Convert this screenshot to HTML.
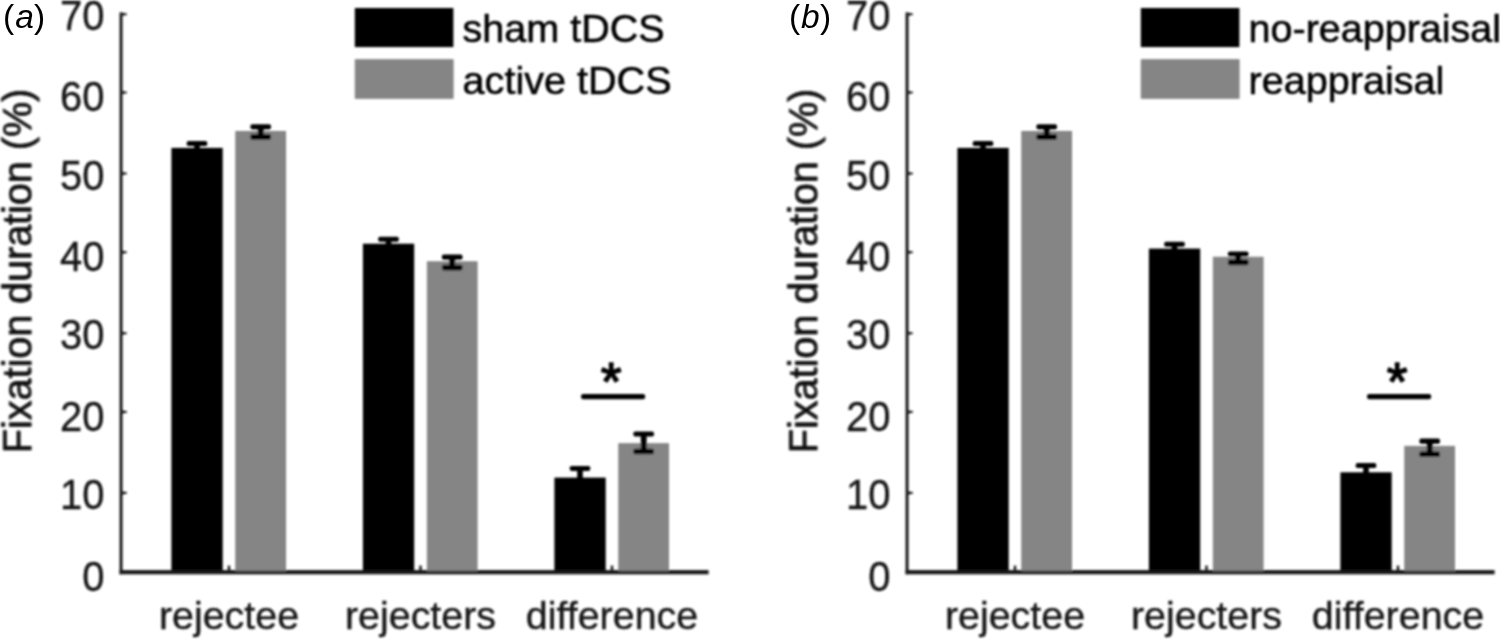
<!DOCTYPE html>
<html lang="en">
<head>
<meta charset="utf-8">
<title>Fixation duration</title>
<style>
html,body{margin:0;padding:0;background:#fff;}
body{width:1500px;height:639px;overflow:hidden;}
svg{display:block;font-family:"Liberation Sans",Arial,sans-serif;}
</style>
</head>
<body>
<svg width="1500" height="639" viewBox="0 0 1500 639">
<rect width="1500" height="639" fill="#fff"/>
<g filter="url(#soft)">
<g transform="translate(0,0)">
<rect x="171.4" y="147.9" width="51.3" height="425.6" fill="#000"/>
<rect x="235.85" y="131.45" width="49.7" height="440.85" fill="#858585" stroke="#787878" stroke-width="0.9"/>
<rect x="362.9" y="243.7" width="51.3" height="329.8" fill="#000"/>
<rect x="427.35" y="261.85" width="49.7" height="310.45" fill="#858585" stroke="#787878" stroke-width="0.9"/>
<rect x="554.4" y="477.6" width="51.3" height="95.9" fill="#000"/>
<rect x="618.85" y="443.75" width="49.7" height="128.55" fill="#858585" stroke="#787878" stroke-width="0.9"/>
<rect x="119.6" y="12.4" width="2.9" height="561.8" fill="#151515"/>
<rect x="119.6" y="570.1" width="589" height="4.2" fill="#161616"/>
<rect x="235.4" y="569.5" width="50.6" height="2" fill="#858585" opacity="0.75"/>
<rect x="426.9" y="569.5" width="50.6" height="2" fill="#858585" opacity="0.75"/>
<rect x="618.4" y="569.5" width="50.6" height="2" fill="#858585" opacity="0.75"/>
<path d="M122 12.7 L126.8 13.4 L126.8 15.0 L122 15.7 Z" fill="#151515"/>
<path d="M122 91.0 L126.8 91.7 L126.8 93.3 L122 94.0 Z" fill="#151515"/>
<path d="M122 172.0 L126.8 172.7 L126.8 174.3 L122 175.0 Z" fill="#151515"/>
<path d="M122 250.8 L126.8 251.5 L126.8 253.1 L122 253.8 Z" fill="#151515"/>
<path d="M122 331.7 L126.8 332.4 L126.8 334.0 L122 334.7 Z" fill="#151515"/>
<path d="M122 410.4 L126.8 411.1 L126.8 412.7 L122 413.4 Z" fill="#151515"/>
<path d="M122 491.4 L126.8 492.1 L126.8 493.7 L122 494.4 Z" fill="#151515"/>
<rect x="227.8" y="565.6" width="2.4" height="5" fill="#151515"/>
<rect x="419.3" y="565.6" width="2.4" height="5" fill="#151515"/>
<rect x="610.8" y="565.6" width="2.4" height="5" fill="#151515"/>
<rect x="194.2" y="143.6" width="5.6" height="6.3" fill="#000"/>
<rect x="186.7" y="141.1" width="20.6" height="5" rx="1.8" fill="#000"/>
<rect x="257.8" y="126.8" width="5.8" height="10.1" fill="#000"/>
<rect x="250.4" y="124.2" width="20.6" height="5.2" rx="1.8" fill="#000"/>
<rect x="250.4" y="134.1" width="20.6" height="5.6" rx="1.8" fill="#000"/>
<rect x="385.7" y="239.2" width="5.6" height="6.5" fill="#000"/>
<rect x="378.2" y="236.7" width="20.6" height="5" rx="1.8" fill="#000"/>
<rect x="449.3" y="257.1" width="5.8" height="10.5" fill="#000"/>
<rect x="441.9" y="254.5" width="20.6" height="5.2" rx="1.8" fill="#000"/>
<rect x="441.9" y="264.8" width="20.6" height="5.6" rx="1.8" fill="#000"/>
<rect x="577.2" y="468.4" width="5.6" height="11.2" fill="#000"/>
<rect x="569.7" y="465.9" width="20.6" height="5" rx="1.8" fill="#000"/>
<rect x="640.8" y="434.0" width="5.8" height="17.5" fill="#000"/>
<rect x="633.4" y="431.4" width="20.6" height="5.2" rx="1.8" fill="#000"/>
<rect x="633.4" y="448.7" width="20.6" height="5.6" rx="1.8" fill="#000"/>
<rect x="581.0" y="394.1" width="64.2" height="5.2" rx="2.2" fill="#000"/>
<text x="611.2" y="399.8" font-size="53.5" text-anchor="middle" fill="#000" stroke="#000" stroke-width="1.5" stroke-linejoin="round">*</text>
<text transform="translate(104.4,590.5) scale(1,1.06)" font-size="40" text-anchor="end" fill="#141414" stroke="#141414" stroke-width="0.3">0</text>
<text transform="translate(104.4,509.0) scale(1,1.06)" font-size="40" text-anchor="end" fill="#141414" stroke="#141414" stroke-width="0.3">10</text>
<text transform="translate(104.4,430.6) scale(1,1.06)" font-size="40" text-anchor="end" fill="#141414" stroke="#141414" stroke-width="0.3">20</text>
<text transform="translate(104.4,349.4) scale(1,1.06)" font-size="40" text-anchor="end" fill="#141414" stroke="#141414" stroke-width="0.3">30</text>
<text transform="translate(104.4,271.0) scale(1,1.06)" font-size="40" text-anchor="end" fill="#141414" stroke="#141414" stroke-width="0.3">40</text>
<text transform="translate(104.4,190.2) scale(1,1.06)" font-size="40" text-anchor="end" fill="#141414" stroke="#141414" stroke-width="0.3">50</text>
<text transform="translate(104.4,111.0) scale(1,1.06)" font-size="40" text-anchor="end" fill="#141414" stroke="#141414" stroke-width="0.3">60</text>
<text transform="translate(104.4,30.0) scale(1,1.06)" font-size="40" text-anchor="end" fill="#141414" stroke="#141414" stroke-width="0.3">70</text>
<text x="229.0" y="629" font-size="39.4" text-anchor="middle" fill="#161616" stroke="#161616" stroke-width="0.4">rejectee</text>
<text x="420.5" y="629" font-size="39.4" text-anchor="middle" fill="#161616" stroke="#161616" stroke-width="0.4">rejecters</text>
<text x="612.0" y="629" font-size="39.4" text-anchor="middle" fill="#161616" stroke="#161616" stroke-width="0.4">difference</text>
<text transform="translate(31.7,270.9) rotate(-90) scale(1,1.04)" font-size="39.5" text-anchor="middle" fill="#0a0a0a" stroke="#0a0a0a" stroke-width="0.7">Fixation duration (%)</text>
<rect x="354.8" y="8" width="98.6" height="39.1" fill="#000"/>
<rect x="355.2" y="59.7" width="97.9" height="38.6" fill="#858585" stroke="#777" stroke-width="0.8"/>
<text x="462.6" y="42.2" font-size="39.5" fill="#000" stroke="#000" stroke-width="0.6">sham tDCS</text>
<text x="462.6" y="93.6" font-size="39.6" fill="#000" stroke="#000" stroke-width="0.6">active tDCS</text>
</g>
<g transform="translate(786.0,0)">
<rect x="171.4" y="147.9" width="51.3" height="425.6" fill="#000"/>
<rect x="235.85" y="131.45" width="49.7" height="440.85" fill="#858585" stroke="#787878" stroke-width="0.9"/>
<rect x="362.9" y="248.6" width="51.3" height="324.9" fill="#000"/>
<rect x="427.35" y="257.25" width="49.7" height="315.05" fill="#858585" stroke="#787878" stroke-width="0.9"/>
<rect x="554.4" y="472.3" width="51.3" height="101.2" fill="#000"/>
<rect x="618.85" y="446.35" width="49.7" height="125.95" fill="#858585" stroke="#787878" stroke-width="0.9"/>
<rect x="119.6" y="12.4" width="2.9" height="561.8" fill="#151515"/>
<rect x="119.6" y="570.1" width="589" height="4.2" fill="#161616"/>
<rect x="235.4" y="569.5" width="50.6" height="2" fill="#858585" opacity="0.75"/>
<rect x="426.9" y="569.5" width="50.6" height="2" fill="#858585" opacity="0.75"/>
<rect x="618.4" y="569.5" width="50.6" height="2" fill="#858585" opacity="0.75"/>
<path d="M122 12.7 L126.8 13.4 L126.8 15.0 L122 15.7 Z" fill="#151515"/>
<path d="M122 91.0 L126.8 91.7 L126.8 93.3 L122 94.0 Z" fill="#151515"/>
<path d="M122 172.0 L126.8 172.7 L126.8 174.3 L122 175.0 Z" fill="#151515"/>
<path d="M122 250.8 L126.8 251.5 L126.8 253.1 L122 253.8 Z" fill="#151515"/>
<path d="M122 331.7 L126.8 332.4 L126.8 334.0 L122 334.7 Z" fill="#151515"/>
<path d="M122 410.4 L126.8 411.1 L126.8 412.7 L122 413.4 Z" fill="#151515"/>
<path d="M122 491.4 L126.8 492.1 L126.8 493.7 L122 494.4 Z" fill="#151515"/>
<rect x="227.8" y="565.6" width="2.4" height="5" fill="#151515"/>
<rect x="419.3" y="565.6" width="2.4" height="5" fill="#151515"/>
<rect x="610.8" y="565.6" width="2.4" height="5" fill="#151515"/>
<rect x="194.2" y="143.6" width="5.6" height="6.3" fill="#000"/>
<rect x="186.7" y="141.1" width="20.6" height="5" rx="1.8" fill="#000"/>
<rect x="257.8" y="126.8" width="5.8" height="10.1" fill="#000"/>
<rect x="250.4" y="124.2" width="20.6" height="5.2" rx="1.8" fill="#000"/>
<rect x="250.4" y="134.1" width="20.6" height="5.6" rx="1.8" fill="#000"/>
<rect x="385.7" y="244.3" width="5.6" height="6.3" fill="#000"/>
<rect x="378.2" y="241.8" width="20.6" height="5" rx="1.8" fill="#000"/>
<rect x="449.3" y="254.0" width="5.8" height="8.4" fill="#000"/>
<rect x="441.9" y="251.4" width="20.6" height="5.2" rx="1.8" fill="#000"/>
<rect x="441.9" y="259.6" width="20.6" height="5.6" rx="1.8" fill="#000"/>
<rect x="577.2" y="465.6" width="5.6" height="8.7" fill="#000"/>
<rect x="569.7" y="463.1" width="20.6" height="5" rx="1.8" fill="#000"/>
<rect x="640.8" y="441.2" width="5.8" height="13.0" fill="#000"/>
<rect x="633.4" y="438.6" width="20.6" height="5.2" rx="1.8" fill="#000"/>
<rect x="633.4" y="451.4" width="20.6" height="5.6" rx="1.8" fill="#000"/>
<rect x="581.0" y="394.1" width="64.2" height="5.2" rx="2.2" fill="#000"/>
<text x="611.2" y="399.8" font-size="53.5" text-anchor="middle" fill="#000" stroke="#000" stroke-width="1.5" stroke-linejoin="round">*</text>
<text transform="translate(104.4,590.5) scale(1,1.06)" font-size="40" text-anchor="end" fill="#141414" stroke="#141414" stroke-width="0.3">0</text>
<text transform="translate(104.4,509.0) scale(1,1.06)" font-size="40" text-anchor="end" fill="#141414" stroke="#141414" stroke-width="0.3">10</text>
<text transform="translate(104.4,430.6) scale(1,1.06)" font-size="40" text-anchor="end" fill="#141414" stroke="#141414" stroke-width="0.3">20</text>
<text transform="translate(104.4,349.4) scale(1,1.06)" font-size="40" text-anchor="end" fill="#141414" stroke="#141414" stroke-width="0.3">30</text>
<text transform="translate(104.4,271.0) scale(1,1.06)" font-size="40" text-anchor="end" fill="#141414" stroke="#141414" stroke-width="0.3">40</text>
<text transform="translate(104.4,190.2) scale(1,1.06)" font-size="40" text-anchor="end" fill="#141414" stroke="#141414" stroke-width="0.3">50</text>
<text transform="translate(104.4,111.0) scale(1,1.06)" font-size="40" text-anchor="end" fill="#141414" stroke="#141414" stroke-width="0.3">60</text>
<text transform="translate(104.4,30.0) scale(1,1.06)" font-size="40" text-anchor="end" fill="#141414" stroke="#141414" stroke-width="0.3">70</text>
<text x="229.0" y="629" font-size="39.4" text-anchor="middle" fill="#161616" stroke="#161616" stroke-width="0.4">rejectee</text>
<text x="420.5" y="629" font-size="39.4" text-anchor="middle" fill="#161616" stroke="#161616" stroke-width="0.4">rejecters</text>
<text x="612.0" y="629" font-size="39.4" text-anchor="middle" fill="#161616" stroke="#161616" stroke-width="0.4">difference</text>
<text transform="translate(31.7,270.9) rotate(-90) scale(1,1.04)" font-size="39.5" text-anchor="middle" fill="#0a0a0a" stroke="#0a0a0a" stroke-width="0.7">Fixation duration (%)</text>
<rect x="354.8" y="8" width="98.6" height="39.1" fill="#000"/>
<rect x="355.2" y="59.7" width="97.9" height="38.6" fill="#858585" stroke="#777" stroke-width="0.8"/>
<text x="462.6" y="42.2" font-size="39.5" fill="#000" stroke="#000" stroke-width="0.6">no-reappraisal</text>
<text x="462.6" y="93.6" font-size="39.6" fill="#000" stroke="#000" stroke-width="0.6">reappraisal</text>
</g>
</g>
<g filter="url(#soft2)">
<text x="3" y="28" font-size="33.5" fill="#000">(<tspan font-style="italic" dx="1.2">a</tspan><tspan dx="0">)</tspan></text>
<text x="789.1" y="28" font-size="33.5" fill="#000">(<tspan font-style="italic" dx="0.8">b</tspan><tspan dx="0.3">)</tspan></text>
</g>
<defs><filter id="soft2" x="0" y="0" width="1500" height="60" filterUnits="userSpaceOnUse"><feGaussianBlur stdDeviation="0.35"/></filter><filter id="soft" x="0" y="0" width="1500" height="639" filterUnits="userSpaceOnUse"><feGaussianBlur stdDeviation="0.9"/></filter></defs>
</svg>
</body>
</html>
